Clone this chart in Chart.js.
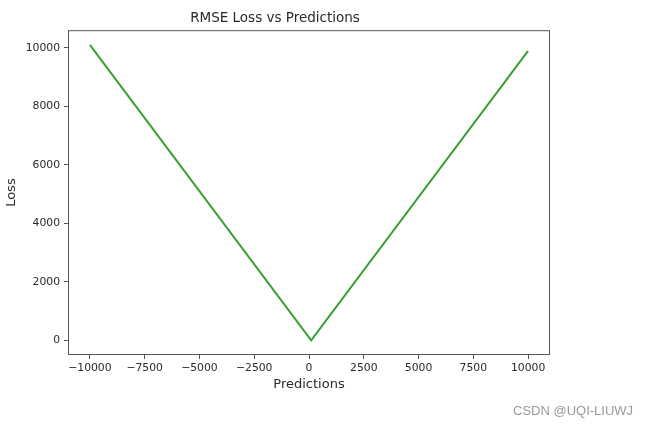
<!DOCTYPE html>
<html>
<head>
<meta charset="utf-8">
<script src="https://cdn.jsdelivr.net/npm/chart.js@4.4.1/dist/chart.umd.min.js"></script>
<style>
  html, body { margin: 0; padding: 0; background: #fff; }
  #wrap { position: relative; width: 651px; height: 430px; }
  #mark {
    position: absolute; left: 513px; top: 403px;
    font: 13px "Liberation Sans", Arial, sans-serif; color: #9a9a9a;
    white-space: nowrap;
  }
</style>
</head>
<body>
<div id="wrap">
  <canvas id="chart" width="651" height="430"></canvas>
  <div id="mark">CSDN @UQI-LIUWJ</div>
</div>
<script>
// data: V-shaped loss, minimum near 100
const predictions = [-10000, 100, 10000];
const lossValues  = [10100, 0, 9900];
const xTicks = [-10000, -7500, -5000, -2500, 0, 2500, 5000, 7500, 10000];
const yTicks = [0, 2000, 4000, 6000, 8000, 10000];

const FONT = "'DejaVu Sans', sans-serif";
const AXIS = '#555';
const TEXT = '#2a2a2a';

// frame round the plot like matplotlib spines
const framePlugin = {
  id: 'frame',
  afterDraw(chart) {
    const { ctx, chartArea: a } = chart;
    ctx.save();
    ctx.strokeStyle = AXIS;
    ctx.lineWidth = 1;
    ctx.strokeRect(a.left + 0.5, a.top + 0.5, a.right - a.left - 1, a.bottom - a.top - 1);
    ctx.restore();
  }
};

const fmt = v => (v < 0 ? '\u2212' + Math.abs(v) : String(v));

new Chart(document.getElementById('chart'), {
  type: 'line',
  data: {
    datasets: [{
      data: predictions.map((p, i) => ({ x: p, y: lossValues[i] })),
      borderColor: '#35a035',
      borderWidth: 2,
      pointRadius: 0,
      tension: 0
    }]
  },
  options: {
    responsive: false,
    animation: false,
    layout: { padding: { left: 0, right: 101, top: 0, bottom: 38 } },
    plugins: {
      legend: { display: false },
      tooltip: { enabled: false },
      title: {
        display: true,
        text: 'RMSE Loss vs Predictions',
        color: TEXT,
        font: { family: FONT, size: 13.5, weight: 'normal', lineHeight: 1.2 },
        padding: { top: 10, bottom: 4 }
      }
    },
    scales: {
      x: {
        type: 'linear',
        min: -11000,
        max: 11000,
        afterBuildTicks: s => { s.ticks = xTicks.map(v => ({ value: v })); },
        afterFit: s => { s.height = 37; },
        ticks: {
          color: TEXT,
          padding: 3,
          maxRotation: 0,
          font: { family: FONT, size: 10.8 },
          callback: v => fmt(v)
        },
        grid: { drawOnChartArea: false, drawTicks: true, tickLength: 4, color: AXIS },
        border: { display: false },
        title: {
          display: true,
          text: 'Predictions',
          color: TEXT,
          font: { family: FONT, size: 13 },
          padding: { top: 0, bottom: 0 }
        }
      },
      y: {
        type: 'linear',
        min: -505,
        max: 10605,
        afterBuildTicks: s => { s.ticks = yTicks.map(v => ({ value: v })); },
        afterFit: s => { s.width = 68; },
        ticks: {
          color: TEXT,
          padding: 4,
          font: { family: FONT, size: 10.8 },
          callback: v => fmt(v)
        },
        grid: { drawOnChartArea: false, drawTicks: true, tickLength: 4, color: AXIS },
        border: { display: false },
        title: {
          display: true,
          text: 'Loss',
          color: TEXT,
          font: { family: FONT, size: 13 },
          padding: { top: 4, bottom: 0 }
        }
      }
    }
  },
  plugins: [framePlugin]
});
</script>
</body>
</html>
